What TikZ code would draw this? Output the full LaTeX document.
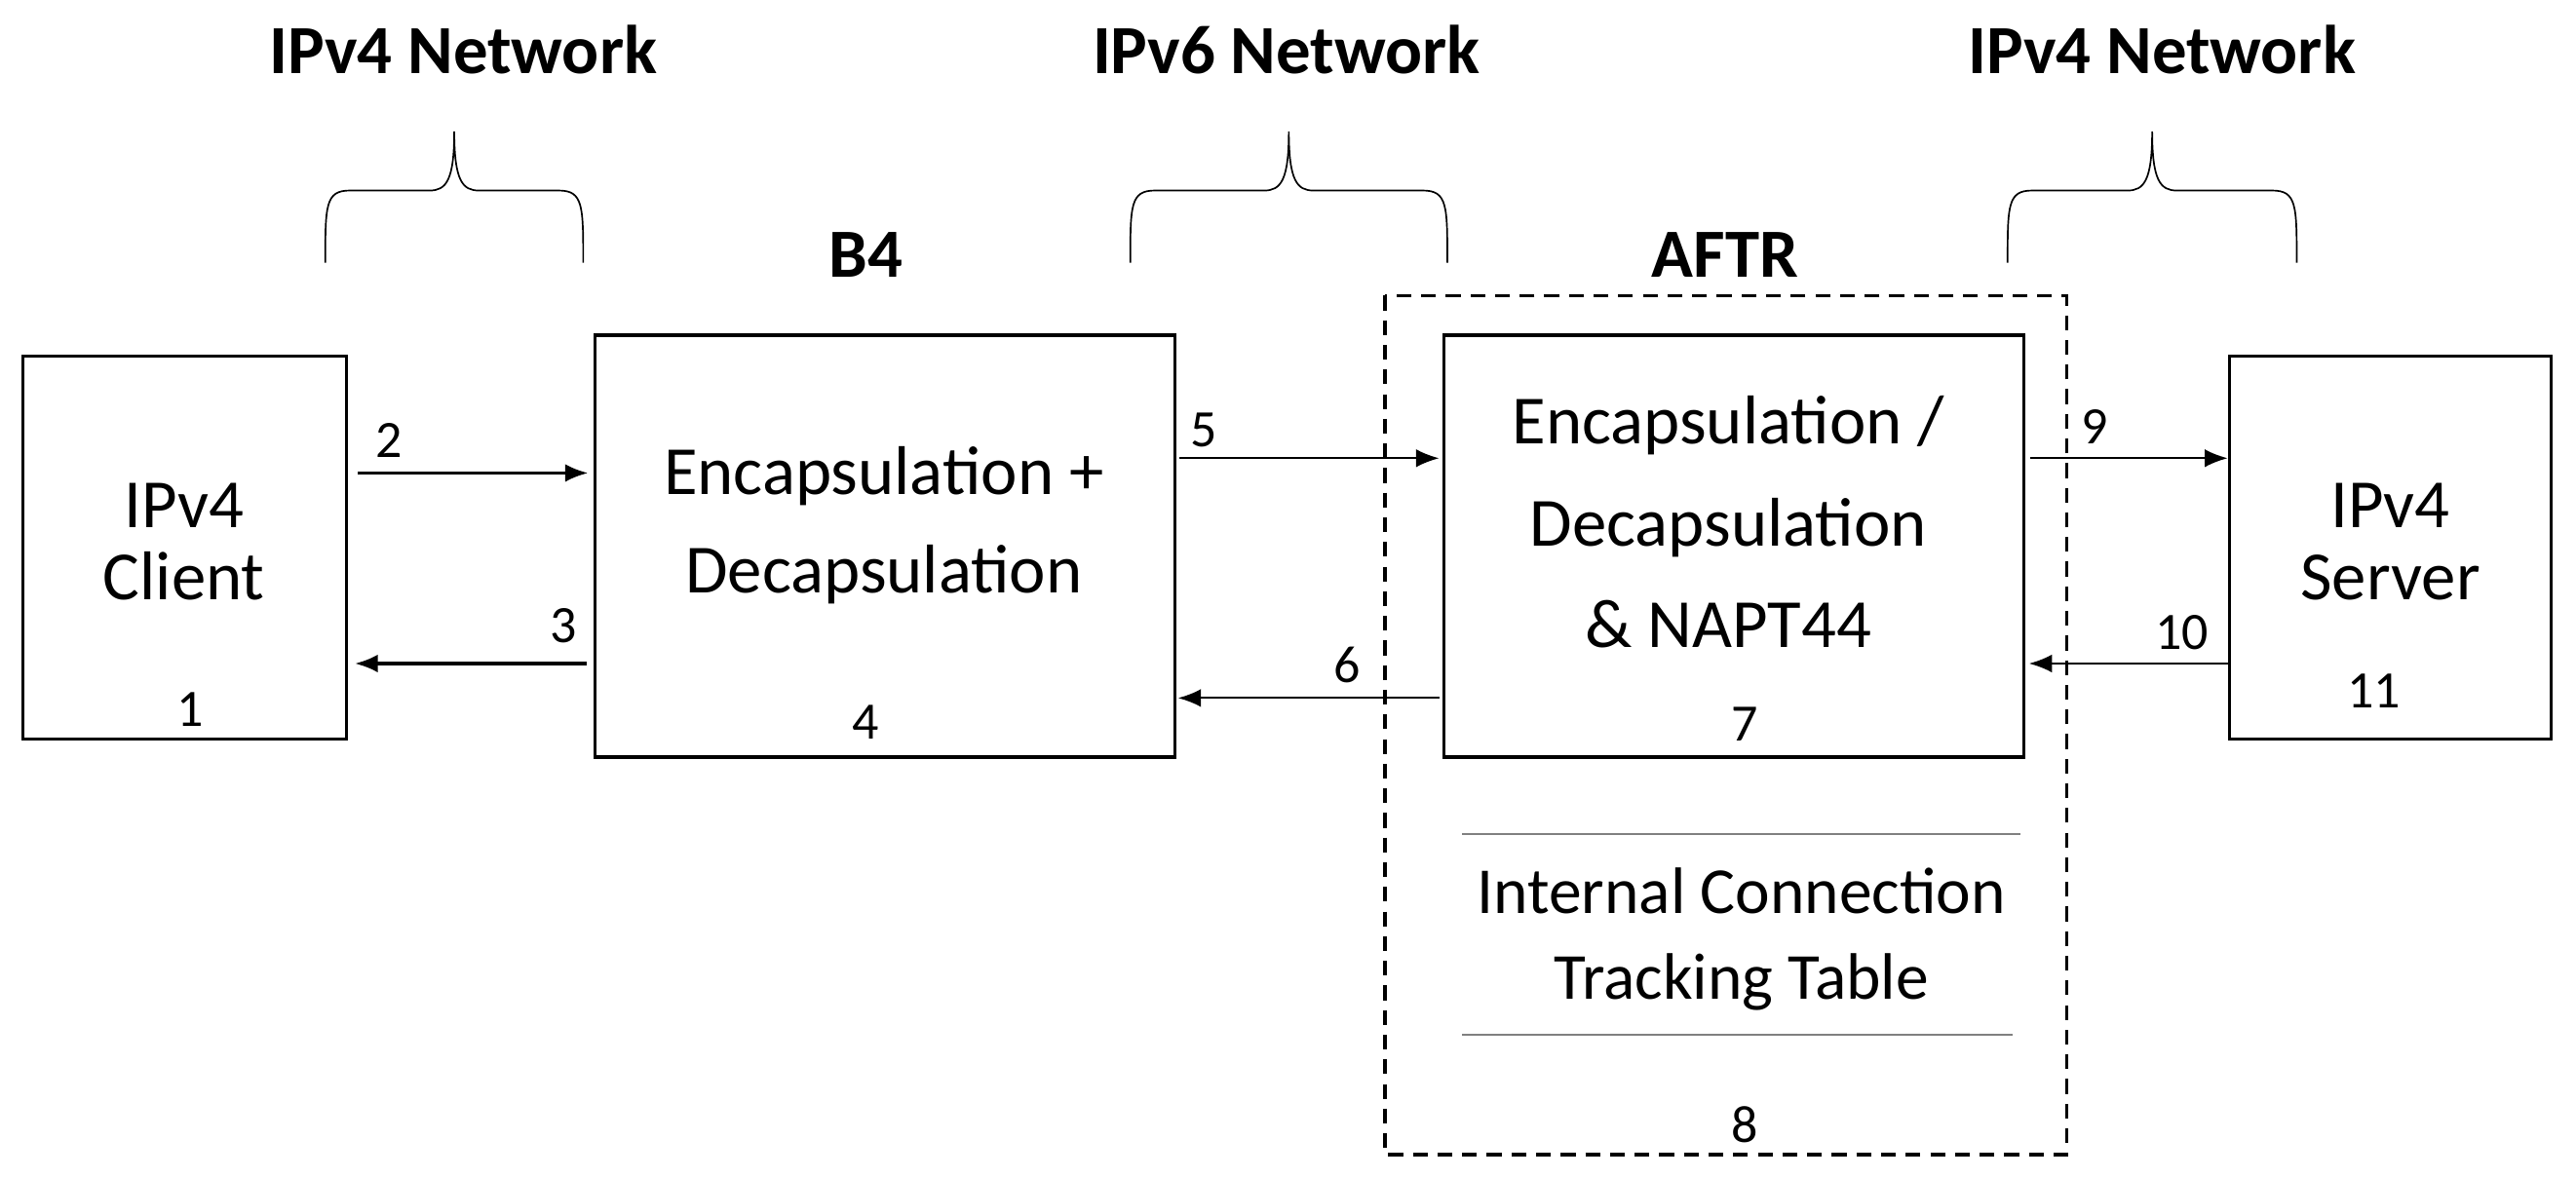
\documentclass[tikz,border=0pt]{standalone}
\usepackage{fontspec}
\setmainfont{Carlito}
\usetikzlibrary{arrows.meta}
\begin{document}
\begin{tikzpicture}[x=1pt,y=-1pt,
 box/.style={draw,line width=2pt},
 txt/.style={font=\fontsize{42}{50}\selectfont,align=center},
 num/.style={font=\fontsize{32}{36}\selectfont,inner sep=0},
 hdr/.style={font=\fontsize{42}{50}\selectfont\bfseries},
 arr/.style={line width=2pt,-{Latex[length=14pt,width=11pt]}},
 arr2/.style={line width=1.3pt,-{Latex[length=14pt,width=11pt]}}]
\useasboundingbox (0,0) rectangle (1568,717);
% boxes
\draw[box] (14,217) rectangle (211,450);
\node[txt] (cl) at (112,330) {IPv4\\[-6pt]Client};
\node[num] (n1) at (116,432) {1};
\draw[box] (362,204) rectangle (715,461);
\node[txt] (b4) at (538,320) {Encapsulation +\\[10pt]Decapsulation};
\node[num] (n4) at (527,440) {4};
\draw[line width=2pt,dash pattern=on 9pt off 6pt] (843,180) rectangle (1258,703);
\draw[box] (879,204) rectangle (1232,461);
\node[txt] (af) at (1052,318) {Encapsulation /\\[12pt]Decapsulation\\[12pt]\&\ NAPT44};
\node[num] (n7) at (1062,441) {7};
\draw[gray,line width=1.3pt] (890,508) -- (1230,508);
\draw[gray,line width=1.3pt] (890,630) -- (1225,630);
\node[txt,font=\fontsize{40}{48}\selectfont] (tt) at (1060,572) {Internal Connection\\[4pt]Tracking Table};
\node[num] (n8) at (1062,685) {8};
\draw[box] (1357,217) rectangle (1553,450);
\node[txt] (sv) at (1455,330) {IPv4\\[-6pt]Server};
\node[num] (n11) at (1445,421) {11};
% headers
\node[hdr] (h1) at (282,30) {IPv4 Network};
\node[hdr] (h2) at (783,30) {IPv6 Network};
\node[hdr] (h3) at (1316,30) {IPv4 Network};
\node[hdr] (hb) at (527,155) {B4};
\node[hdr] (ha) at (1050,155) {AFTR};
% arrows
\coordinate (a2s) at (218,288); \coordinate (a2e) at (358,288);
\draw[arr] (a2s) -- (a2e); \node[num] at (237,268) {2};
\coordinate (a3s) at (357,404); \coordinate (a3e) at (216,404);
\draw[arr] (a3s) -- (a3e); \node[num] at (343,381) {3};
\coordinate (a5s) at (718,279); \coordinate (a5e) at (876,279);
\draw[arr2] (a5s) -- (a5e); \node[num] at (733,262) {5};
\coordinate (a6s) at (876,425); \coordinate (a6e) at (717,425);
\draw[arr2] (a6s) -- (a6e); \node[num] at (820,405) {6};
\coordinate (a9s) at (1236,279); \coordinate (a9e) at (1356,279);
\draw[arr2] (a9s) -- (a9e); \node[num] at (1275,260) {9};
\coordinate (a10s) at (1356,404); \coordinate (a10e) at (1235,404);
\draw[arr2] (a10s) -- (a10e); \node[num] at (1328,385) {10};
% braces
\foreach \l/\r in {198/355,688/881,1222/1398}{
 \pgfmathsetmacro{\m}{(\l+\r)/2}
 \draw[line width=1pt] (\l,160) .. controls (\l,125) and (\l,116) .. (\l+15,116)
   -- (\m-15,116) .. controls (\m-5,116) and (\m,110) .. (\m,80)
   .. controls (\m,110) and (\m+5,116) .. (\m+15,116)
   -- (\r-15,116) .. controls (\r,116) and (\r,125) .. (\r,160);
}
\end{tikzpicture}
\end{document}
